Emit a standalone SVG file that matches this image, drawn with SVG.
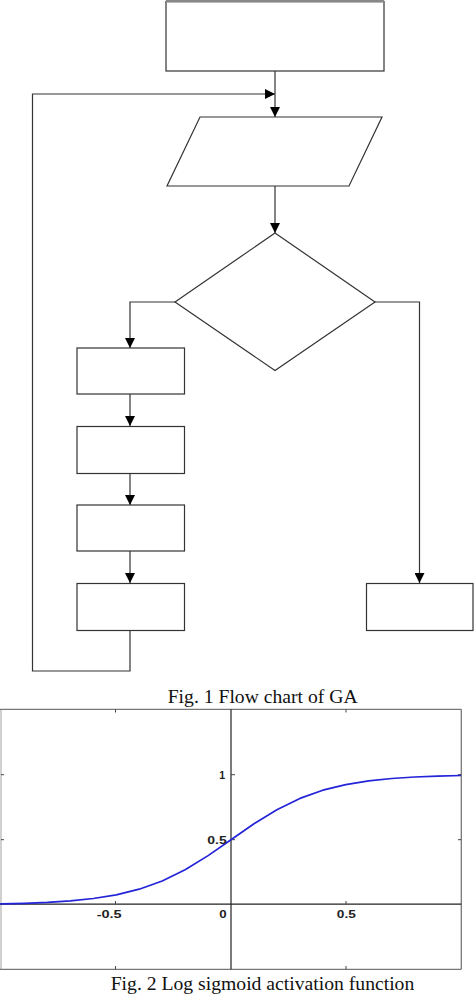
<svg xmlns="http://www.w3.org/2000/svg" width="474" height="994" viewBox="0 0 474 994">
<style>
.shape{fill:#fff;stroke:#333;stroke-width:1.2}
.conn{fill:none;stroke:#333;stroke-width:1.2}
.cap{font-family:"Liberation Serif","Times New Roman",serif;font-size:19.6px;fill:#111}
.tick{font-family:"Liberation Sans",Arial,sans-serif;font-size:10.5px;font-weight:bold;fill:#222}
.frame{fill:none;stroke:#777;stroke-width:1.3}
.axis{fill:none;stroke:#222;stroke-width:1.2}
.tk{stroke:#444;stroke-width:1}
</style>
<defs>
<marker id="ah" viewBox="0 0 10 10" refX="10" refY="5" markerWidth="10.5" markerHeight="10" markerUnits="userSpaceOnUse" orient="auto">
<path d="M0,0 L10,5 L0,10 Z" fill="#000"/>
</marker>
</defs>
<rect x="0" y="0" width="474" height="994" fill="#fff"/>
<g id="connectors">
<line class="conn" x1="275" y1="71" x2="275" y2="117" marker-end="url(#ah)"/>
<polyline class="conn" points="130,630 130,671 32.5,671 32.5,94 275,94" marker-end="url(#ah)"/>
<line class="conn" x1="275" y1="186" x2="275" y2="233" marker-end="url(#ah)"/>
<polyline class="conn" points="175,302 130,302 130,348" marker-end="url(#ah)"/>
<line class="conn" x1="130" y1="394" x2="130" y2="426" marker-end="url(#ah)"/>
<line class="conn" x1="130" y1="473" x2="130" y2="505" marker-end="url(#ah)"/>
<line class="conn" x1="130" y1="551" x2="130" y2="583" marker-end="url(#ah)"/>
<polyline class="conn" points="375,302 419.5,302 419.5,583" marker-end="url(#ah)"/>
</g>
<g id="start"><rect class="shape" x="166" y="1.5" width="218" height="69.5"/><line x1="166" y1="1.3" x2="384" y2="1.3" stroke="#888" stroke-width="2.6"/></g>
<g id="input"><polygon class="shape" points="200,117 382,117 349,186 167,186"/></g>
<g id="decision"><polygon class="shape" points="275,233 375,302 275,370.5 175,302"/></g>
<g id="box1"><rect class="shape" x="77" y="348" width="107.5" height="46"/></g>
<g id="box2"><rect class="shape" x="77" y="426.5" width="107.5" height="47"/></g>
<g id="box3"><rect class="shape" x="77" y="505" width="107.5" height="46"/></g>
<g id="box4"><rect class="shape" x="77" y="583.5" width="107.5" height="47"/></g>
<g id="end"><rect class="shape" x="366.5" y="583.5" width="106.5" height="47"/></g>
<text class="cap" x="262.7" y="703.4" text-anchor="middle" textLength="190" lengthAdjust="spacingAndGlyphs">Fig. 1 Flow chart of GA</text>
<g id="plot">
<line x1="1" y1="709" x2="1" y2="969.5" stroke="#d0d0d0" stroke-width="2"/>
<line class="frame" x1="0" y1="709.3" x2="461.3" y2="709.3"/>
<line class="frame" x1="461.3" y1="709.3" x2="461.3" y2="969.3"/>
<line class="frame" x1="0" y1="969.3" x2="461.3" y2="969.3"/>
<line class="axis" x1="231" y1="709.3" x2="231" y2="969.3"/>
<line class="axis" x1="0" y1="904.2" x2="461.3" y2="904.2"/>
<g class="tk">
<line x1="115.5" y1="709.3" x2="115.5" y2="712.5"/>
<line x1="346" y1="709.3" x2="346" y2="712.5"/>
<line x1="115.5" y1="969.3" x2="115.5" y2="966"/>
<line x1="346" y1="969.3" x2="346" y2="966"/>
<line x1="115.5" y1="904.2" x2="115.5" y2="901"/>
<line x1="346" y1="904.2" x2="346" y2="901"/>
<line x1="1" y1="774.7" x2="4" y2="774.7"/>
<line x1="1" y1="839.7" x2="4" y2="839.7"/>
<line x1="461.3" y1="774.7" x2="458" y2="774.7"/>
<line x1="461.3" y1="839.7" x2="458" y2="839.7"/>
<line x1="231" y1="774.7" x2="235" y2="774.7"/>
<line x1="231" y1="839.7" x2="235" y2="839.7"/>
</g>
<polyline fill="none" stroke="#2323d8" stroke-width="1.7" stroke-linejoin="round" points="0,904 1.5,903.8 24.5,903.3 47.4,902.4 70.4,900.9 93.3,898.5 116.3,894.8 139.2,889.2 162.2,881 185.1,869.7 208.1,855.6 231,839.7 254,823.8 276.9,809.7 299.9,798.4 322.8,790.2 345.8,784.6 368.7,780.9 391.7,778.5 414.6,777 437.6,776.1 461,775.5"/>
<text class="tick" x="222.2" y="778.8" text-anchor="middle">1</text>
<text class="tick" x="217" y="843.6" text-anchor="middle" textLength="19.5" lengthAdjust="spacingAndGlyphs">0.5</text>
<text class="tick" x="109.2" y="918" text-anchor="middle" textLength="25" lengthAdjust="spacingAndGlyphs">-0.5</text>
<text class="tick" x="223" y="918" text-anchor="middle" textLength="7.4" lengthAdjust="spacingAndGlyphs">0</text>
<text class="tick" x="346.3" y="918" text-anchor="middle" textLength="19" lengthAdjust="spacingAndGlyphs">0.5</text>
</g>
<text class="cap" x="262.5" y="989.6" text-anchor="middle" textLength="303.6" lengthAdjust="spacingAndGlyphs">Fig. 2 Log sigmoid activation function</text>
</svg>
